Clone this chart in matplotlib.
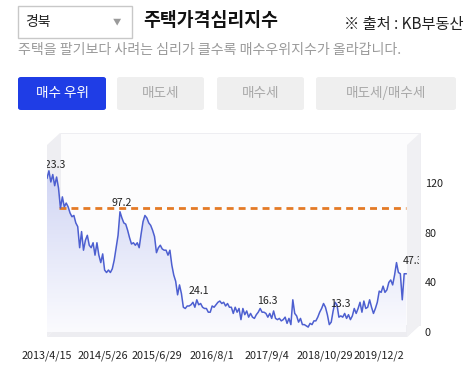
import numpy as np
import pandas as pd
import matplotlib
matplotlib.use("Agg")
import matplotlib.pyplot as plt
import matplotlib.dates as mdates
from matplotlib.patches import Polygon, Rectangle, FancyBboxPatch

plt.rcParams['font.family'] = ['Noto Sans CJK KR', 'DejaVu Sans']

# 경북 매수우위지수 (2주 간격으로 읽은 값)
start_date = '2013-04-15'
values = [124, 130, 121, 127, 118, 125, 116, 100, 109, 101,
          104, 101, 96, 93, 94, 88, 85, 68, 81, 66,
          74, 78, 70, 68, 72, 62, 72, 62, 56, 63,
          50, 48, 50, 48, 51, 58, 68, 78, 97, 92,
          88, 87, 82, 76, 71, 72, 70, 72, 68, 79,
          89, 94, 92, 88, 86, 82, 77, 64, 68, 70,
          67, 66, 66, 62, 66, 54, 46, 41, 30, 38,
          31, 20, 19, 21, 21, 22, 24, 20, 26, 22,
          23, 20, 19, 19, 16, 16, 21, 20, 22, 24,
          25, 23, 24, 21, 23, 20, 20, 15, 20, 16,
          19, 10, 19, 14, 17, 12, 15, 12, 11, 14,
          16, 19, 16, 16, 15, 12, 15, 11, 17, 11,
          10, 11, 9, 10, 12, 7, 11, 6, 26, 15,
          13, 8, 11, 6, 6, 5, 4, 7, 6, 9,
          9, 12, 16, 19, 23, 20, 14, 6, 8, 17,
          24, 22, 12, 13, 12, 15, 11, 14, 10, 13,
          19, 15, 19, 24, 16, 25, 19, 20, 26, 20,
          15, 19, 24, 33, 32, 37, 32, 34, 40, 42,
          38, 46, 56, 48, 47, 26, 47, 47]
dates = pd.date_range(start_date, periods=len(values), freq='14D')

baseline = 100
tick_dates = ['2013-04-15', '2014-05-26', '2015-06-29', '2016-08-01',
              '2017-09-04', '2018-10-29', '2019-12-02']
tick_labels = ['2013/4/15', '2014/5/26', '2015/6/29', '2016/8/1',
               '2017/9/4', '2018/10/29', '2019/12/2']
y_ticks = [0, 40, 80, 120]

# 값 라벨 (날짜 인덱스, 라벨 높이, 표시 문자열, 정렬)
labels = [(3, 135, '123.3', 'center'), (39, 104, '97.2', 'center'),
          (79, 33, '24.1', 'center'), (115, 25, '16.3', 'center'),
          (153, 23, '13.3', 'center'), (185, 57, '47.3', 'left')]

W, H = 474, 375
fig = plt.figure(figsize=(W / 100, H / 100), dpi=100)


def px(x, y):
    return x / W, 1 - y / H


# ---- 상단 UI ----
fig.patches.append(Rectangle(px(18, 38), 114 / W, 32 / H, transform=fig.transFigure,
                             facecolor='white', edgecolor='#c8c8c8', lw=1))
fig.text(*px(25, 22), '경북', fontsize=10, color='#222222', va='center')
fig.text(*px(117, 22), '▼', fontsize=6, color='#9a9a9a', va='center', ha='center')
fig.text(*px(143, 21), '주택가격심리지수', fontsize=13.2, fontweight='bold',
         color='#111111', va='center')
fig.text(*px(463, 25), '※ 출처 : KB부동산', fontsize=11, color='#222222',
         va='center', ha='right')
fig.text(*px(18, 50), '주택을 팔기보다 사려는 심리가 클수록 매수우위지수가 올라갑니다.',
         fontsize=10.1, color='#9a9a9a', va='center')

buttons = [('매수 우위', 18, 106), ('매도세', 117, 204), ('매수세', 217, 304),
           ('매도세/매수세', 316, 456)]
for i, (txt, x0, x1) in enumerate(buttons):
    active = i == 0
    fig.patches.append(FancyBboxPatch(px(x0, 110), (x1 - x0) / W, 33 / H,
                                      boxstyle='round,pad=0,rounding_size=0.006',
                                      transform=fig.transFigure,
                                      facecolor='#1f3de6' if active else '#efefef',
                                      edgecolor='none'))
    fig.text(*px((x0 + x1) / 2, 93.5), txt, fontsize=9.8,
             color='white' if active else '#a8a8a8', ha='center', va='center')

# ---- 3D 느낌의 박스 ----
def wall(pts, color, edge='none'):
    fig.patches.append(Polygon([px(x, y) for x, y in pts], closed=True,
                               transform=fig.transFigure, facecolor=color,
                               edgecolor=edge, lw=0.6, zorder=-1))

wall([(60, 133), (420, 133), (420, 325), (60, 325)], '#fcfcfd', '#ececf0')
wall([(47, 145), (60, 133), (60, 325), (47, 337)], '#eeeef2')
wall([(47, 337), (60, 325), (420, 325), (407, 337)], '#ededf1')
wall([(407, 145), (420, 133), (420, 325), (407, 337)], '#f0f0f3')

# ---- 차트 ----
ax = fig.add_axes([47 / W, (H - 337) / H, (419 - 47) / W, (337 - 133) / H])
ax.set_zorder(2)
ax.patch.set_alpha(0)
day0 = pd.Timestamp(start_date)
xlim = (day0, day0 + pd.Timedelta(days=2712))
ylim = (-4, 160.5)

x = mdates.date2num(dates)
y = np.array(values, dtype=float)
fill = ax.fill_between(dates, y, 0, color='none', lw=0)
grad = np.linspace(1, 0, 256).reshape(-1, 1)
img = ax.imshow(grad, extent=[x[0], x[-1], 0, max(y)], aspect='auto',
                cmap=matplotlib.colors.LinearSegmentedColormap.from_list(
                    'g', ['#fbfbfe', '#d0d5f4']), zorder=1)
img.set_clip_path(fill.get_paths()[0], transform=ax.transData)
ax.set_xlim(*xlim)
ax.set_ylim(*ylim)

ax.plot(dates, values, color='#4d5fd0', lw=1.1, zorder=3)
ax.plot([day0 + pd.Timedelta(days=85), dates[-1]], [baseline, baseline],
        color='#e47a26', lw=2, dashes=(2.5, 1.8), zorder=2)

for idx, val, txt, ha in labels:
    ax.text(dates[idx], val, txt, fontsize=7.6, color='#222222',
            ha=ha, va='center', zorder=4, clip_on=True)

for s in ax.spines.values():
    s.set_visible(False)
ax.yaxis.tick_right()
ax.set_yticks(y_ticks)
ax.set_yticklabels([str(v) for v in y_ticks])
ax.set_xticks(pd.to_datetime(tick_dates))
ax.set_xticklabels(tick_labels)
ax.tick_params(axis='both', length=0, labelsize=7.8, colors='#222222')
ax.tick_params(axis='y', pad=4)
ax.tick_params(axis='x', pad=10)

fig.savefig('out.png', dpi=100)
